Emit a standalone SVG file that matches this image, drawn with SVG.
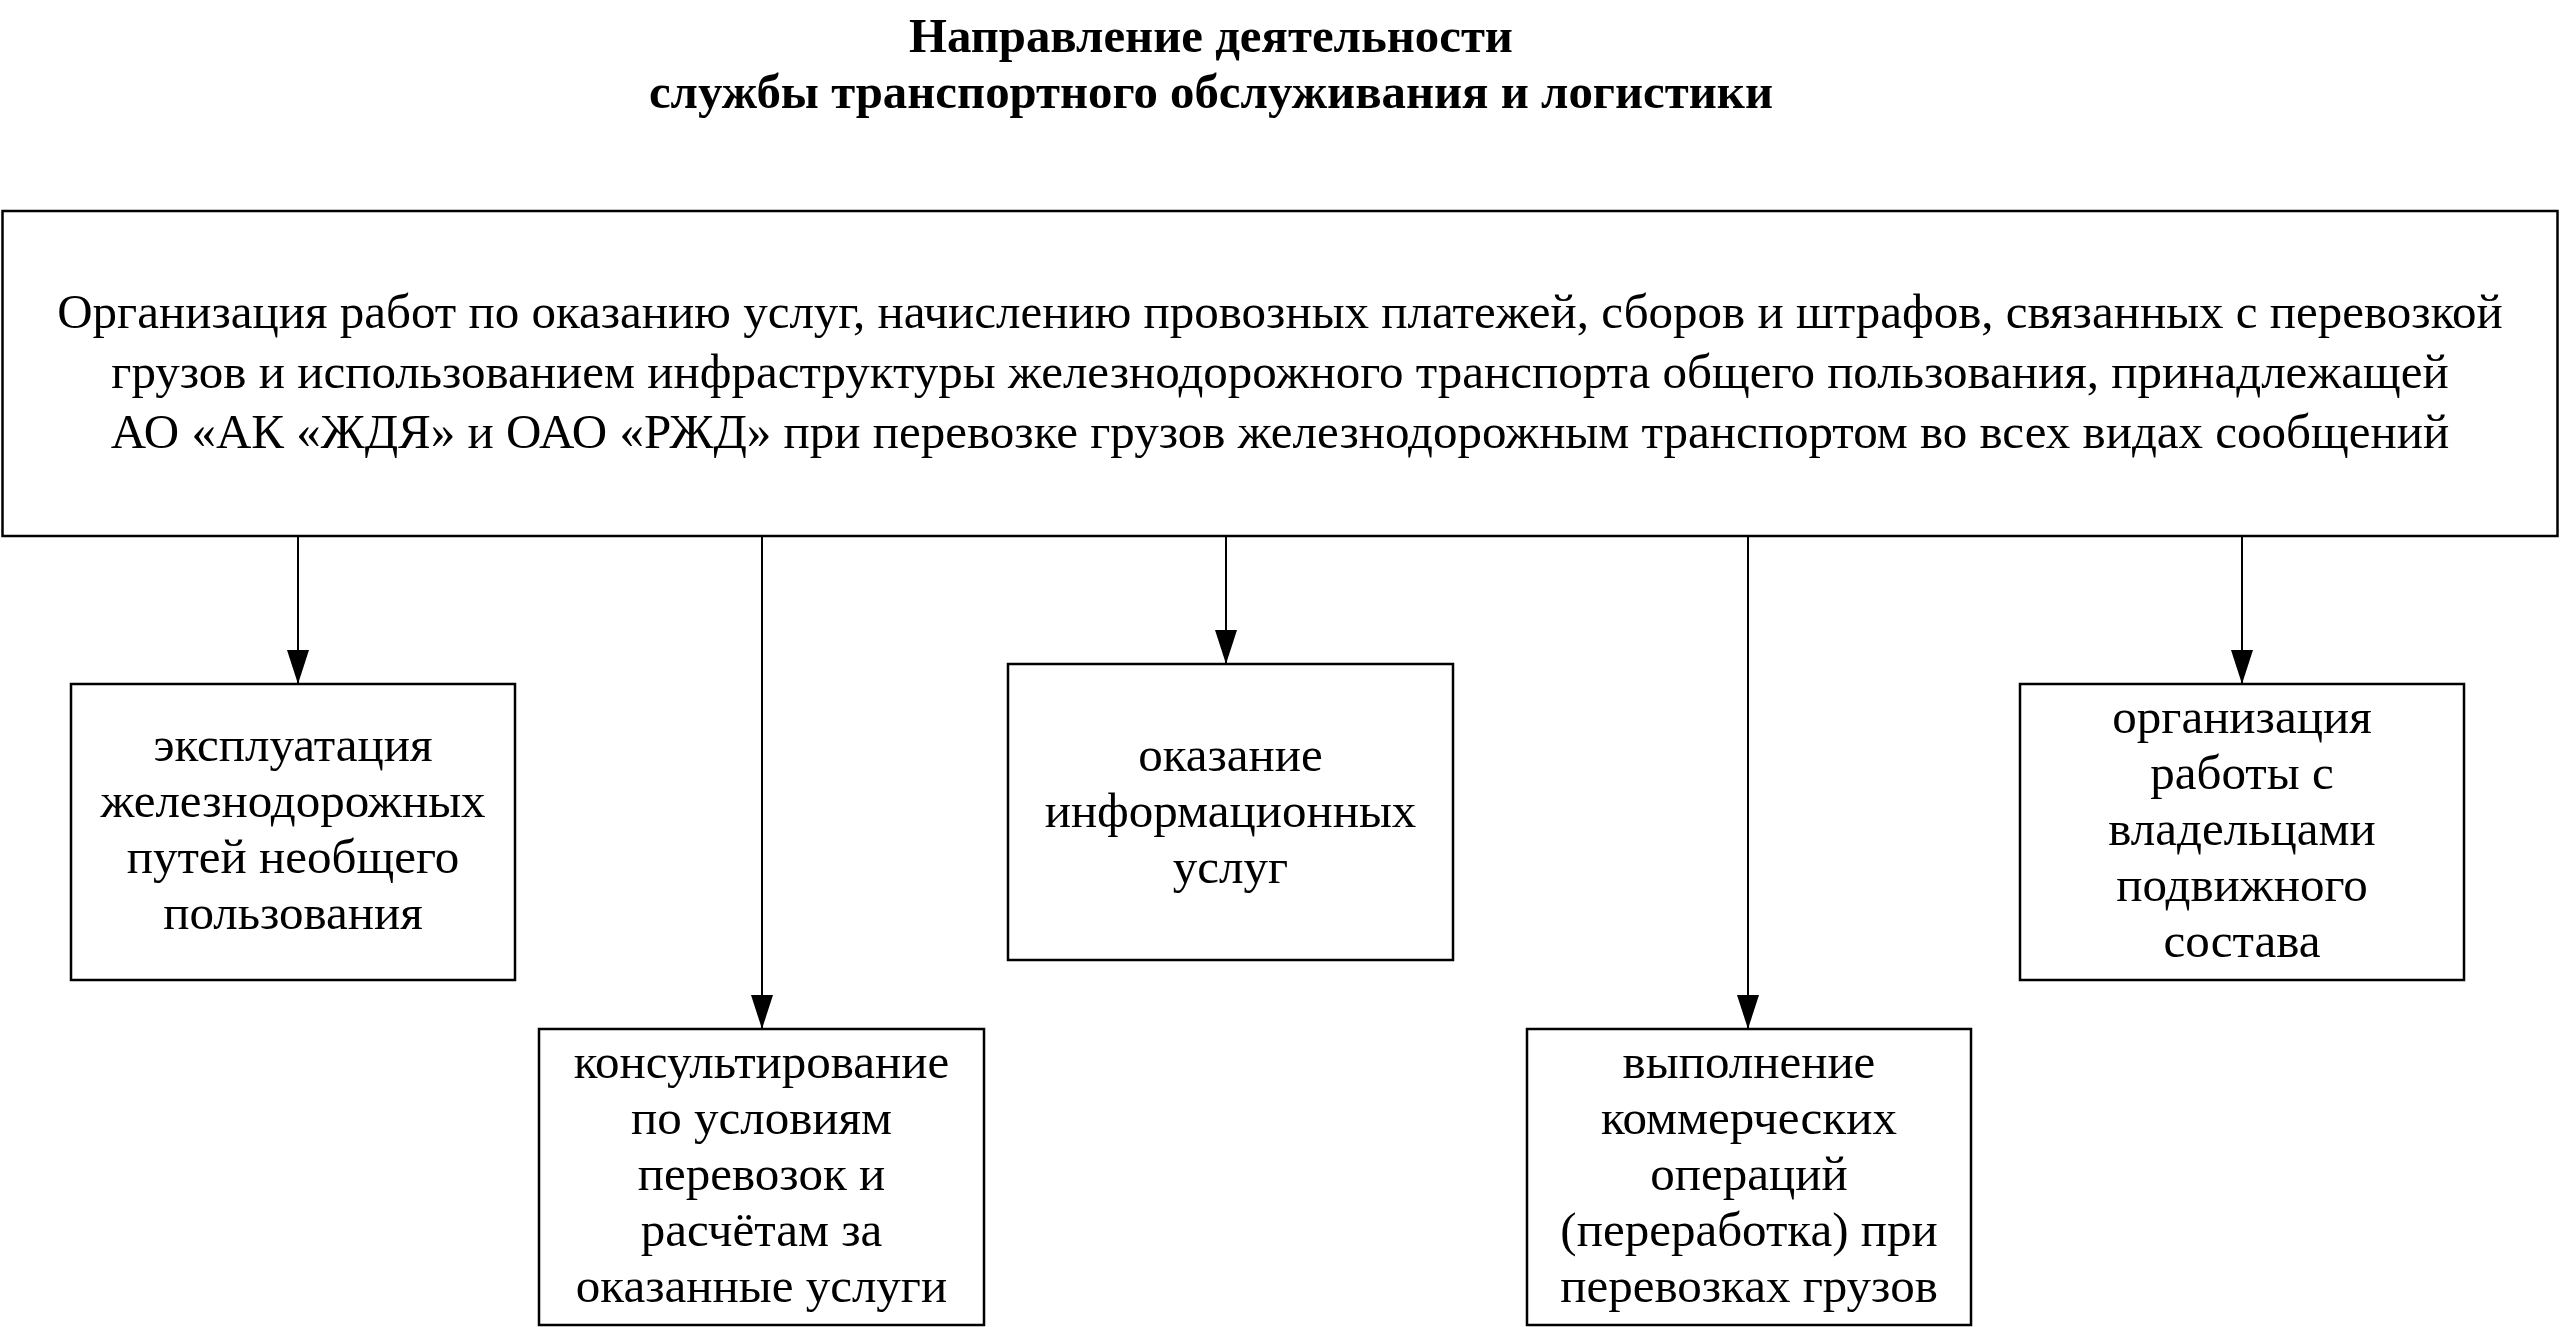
<svg xmlns="http://www.w3.org/2000/svg" width="2560" height="1327" viewBox="0 0 2560 1327">
<style>
.box{fill:#fff;stroke:#000;stroke-width:2.5}
.t{font-family:"Liberation Serif","Times New Roman",serif;fill:#000;text-anchor:middle}
.title{font-size:48.8px;font-weight:bold}
.main{font-size:49px}
.sub{font-size:49px}
.conn{stroke:#000;stroke-width:2;fill:none;marker-end:url(#arr)}
</style>
<defs>
<marker id="arr" viewBox="0 0 34 22" refX="34" refY="11" markerWidth="34" markerHeight="22" markerUnits="userSpaceOnUse" orient="auto">
<path d="M0,0 L34,11 L0,22 z" fill="#000"/>
</marker>
</defs>
<rect width="2560" height="1327" fill="#fff"/>
<g id="title">
<text class="t title" x="1211" y="52">Направление деятельности</text>
<text class="t title" x="1211" y="108">службы транспортного обслуживания и логистики</text>
</g>
<g id="connectors">
<line class="conn" x1="298" y1="536" x2="298" y2="684"/>
<line class="conn" x1="762" y1="536" x2="762" y2="1029"/>
<line class="conn" x1="1226" y1="536" x2="1226" y2="664"/>
<line class="conn" x1="1748" y1="536" x2="1748" y2="1029"/>
<line class="conn" x1="2242" y1="536" x2="2242" y2="684"/>
</g>
<g id="node-main">
<rect class="box" x="2.5" y="211" width="2555" height="325"/>
<text class="t main" x="1280" y="328">Организация работ по оказанию услуг, начислению провозных платежей, сборов и штрафов, связанных с перевозкой</text>
<text class="t main" x="1280" y="388">грузов и использованием инфраструктуры железнодорожного транспорта общего пользования, принадлежащей</text>
<text class="t main" x="1280" y="448">АО «АК «ЖДЯ» и ОАО «РЖД» при перевозке грузов железнодорожным транспортом во всех видах сообщений</text>
</g>
<g id="node-1">
<rect class="box" x="71" y="684" width="444" height="296"/>
<text class="t sub" x="293" y="761">эксплуатация</text>
<text class="t sub" x="293" y="817">железнодорожных</text>
<text class="t sub" x="293" y="873">путей необщего</text>
<text class="t sub" x="293" y="929">пользования</text>
</g>
<g id="node-2">
<rect class="box" x="539" y="1029" width="445" height="296"/>
<text class="t sub" x="761.5" y="1078">консультирование</text>
<text class="t sub" x="761.5" y="1134">по условиям</text>
<text class="t sub" x="761.5" y="1190">перевозок и</text>
<text class="t sub" x="761.5" y="1246">расчётам за</text>
<text class="t sub" x="761.5" y="1302">оказанные услуги</text>
</g>
<g id="node-3">
<rect class="box" x="1008" y="664" width="445" height="296"/>
<text class="t sub" x="1230.5" y="771">оказание</text>
<text class="t sub" x="1230.5" y="827">информационных</text>
<text class="t sub" x="1230.5" y="883">услуг</text>
</g>
<g id="node-4">
<rect class="box" x="1527" y="1029" width="444" height="296"/>
<text class="t sub" x="1749" y="1078">выполнение</text>
<text class="t sub" x="1749" y="1134">коммерческих</text>
<text class="t sub" x="1749" y="1190">операций</text>
<text class="t sub" x="1749" y="1246">(переработка) при</text>
<text class="t sub" x="1749" y="1302">перевозках грузов</text>
</g>
<g id="node-5">
<rect class="box" x="2020" y="684" width="444" height="296"/>
<text class="t sub" x="2242" y="733">организация</text>
<text class="t sub" x="2242" y="789">работы с</text>
<text class="t sub" x="2242" y="845">владельцами</text>
<text class="t sub" x="2242" y="901">подвижного</text>
<text class="t sub" x="2242" y="957">состава</text>
</g>
</svg>
